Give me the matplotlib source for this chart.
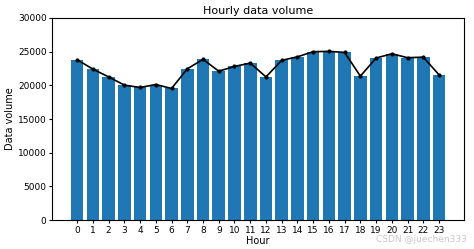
import matplotlib
matplotlib.use("Agg")
import matplotlib.pyplot as plt

# hourly counts
hours = list(range(24))
volume = [23800, 22400, 21250, 20030, 19680, 20120, 19530, 22450,
          23850, 22100, 22800, 23300, 21250, 23700, 24230, 24990,
          25040, 24880, 21360, 24050, 24680, 24100, 24180, 21560]
hour_labels = [str(h) for h in hours]

plt.rcParams["font.size"] = 6.5

fig = plt.figure(figsize=(4.74, 2.49), dpi=100)
ax = fig.add_axes([0.11, 0.116, 0.869, 0.812])

ax.bar(hours, volume, color="#1f77b4")
ax.plot(hours, volume, color="black", marker=".", lw=1.2, ms=4)

ax.set_xticks(hours)
ax.set_xticklabels(hour_labels)
ax.set_ylim(0, 30000)
ax.set_title("Hourly data volume", fontsize=8, pad=3)
ax.set_xlabel("Hour", fontsize=7, labelpad=1)
ax.set_ylabel("Data volume", fontsize=7, labelpad=2)
ax.tick_params(length=2.5, pad=1.5)

fig.text(0.985, 0.022, "CSDN @juechen333", ha="right", va="bottom",
         color="#c8c8c8", fontsize=6.5)

fig.savefig("out.png", dpi=100)
